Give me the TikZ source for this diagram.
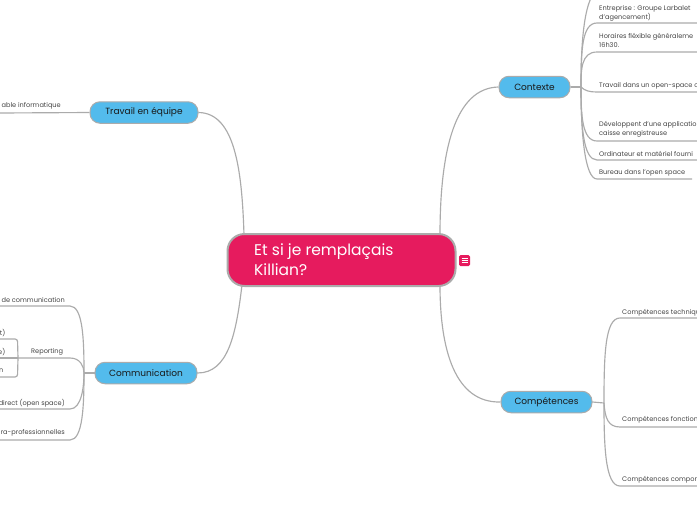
\documentclass[tikz,border=0pt]{standalone}
\usepackage{fontspec}
\setmainfont{Poppins}
\definecolor{pinkc}{HTML}{E61B5E}
\definecolor{bluec}{HTML}{53BBEC}
\definecolor{linec}{HTML}{ABABAB}
\definecolor{txtc}{HTML}{454545}
\newcommand{\tlabel}[1]{\raisebox{-1.8pt}{#1}}
\tikzset{
 x=1pt,y=-1pt,
 link/.style={draw=linec,line width=1.15pt},
 root/.style={draw=linec,line width=2pt,fill=pinkc,rounded corners=17,minimum width=228,minimum height=52,inner sep=0,text=white},
 topic/.style={draw=linec,line width=1pt,fill=bluec,rounded corners=10,minimum height=21.5,inner sep=0,text=black!90,font=\fontsize{9}{10}\selectfont},
 leaf/.style={inner sep=0,text=txtc,font=\fontsize{6.6}{9}\selectfont,align=left},
 leafl/.style={leaf,anchor=east,yshift=-1.3pt},
 leafr/.style={leaf,anchor=west,yshift=-1.3pt},
 leaft/.style={leaf,anchor=north west,yshift=-2.2pt},
}
\begin{document}
\begin{tikzpicture}
\useasboundingbox (0,0) rectangle (697,520);
\clip (0,0) rectangle (697,520);
% root connectors
\coordinate (mtr) at (440,235); \coordinate (mbr) at (440,285);
\coordinate (mtl) at (244,235); \coordinate (mbl) at (242,285);
% main nodes
\node[root] (main) at (341.5,260) {};
\node[anchor=west,inner sep=0,text=white,font=\fontsize{15.5}{20}\selectfont,align=left] (maintxt) at (254,260) {Et si je remplaçais\\Killian?};
\node[topic,minimum width=71] (ctx) at (534.5,87) {\tlabel{Contexte}};
\node[topic,minimum width=108] (team) at (144,112.5) {\tlabel{Travail en équipe}};
\node[topic,minimum width=102] (com) at (146,373) {\tlabel{Communication}};
\node[topic,minimum width=91] (cmp) at (546.5,402) {\tlabel{Compétences}};
% icon
\node[fill=pinkc,rounded corners=1.5,minimum width=11,minimum height=11,inner sep=0] (icon) at (464.5,260.5) {};
\foreach \yy in {-2.4,0,2.4}{\draw[white,line width=.9pt] ([shift={(-3,\yy)}]icon.center) -- ([shift={(3,\yy)}]icon.center);}
\draw[link] (mtr) .. controls (440,150) and (455,88) .. (ctx.west);
\draw[link] (mbr) .. controls (440,350) and (455,403) .. (cmp.west);
\draw[link] (mtl) .. controls (242,170) and (235,113) .. (team.east);
\draw[link] (mbl) .. controls (236,335) and (228,373) .. (com.east);
% Contexte
\coordinate (ct) at (581,87);
\draw[link] (ctx.east) -- (ct);
\coordinate (e0) at (591,-2);
\coordinate (e1s) at (597,23); \coordinate (e1) at (697,23);
\coordinate (e2s) at (597,52); \coordinate (e2) at (697,52);
\coordinate (e3s) at (597,92); \coordinate (e3) at (697,92);
\coordinate (e4s) at (597,141); \coordinate (e4) at (697,141);
\coordinate (e5s) at (597,160); \coordinate (e5) at (697,160);
\coordinate (e6s) at (597,179); \coordinate (e6) at (692,179);
\draw[link] (ct) .. controls (581,50) and (583,15) .. (e0);
\draw[link] (ct) .. controls (581,50) and (582,23) .. (e1s) -- (e1);
\draw[link] (ct) .. controls (581,70) and (581,52) .. (e2s) -- (e2);
\draw[link] (ct) .. controls (585,91) and (590,92) .. (e3s) -- (e3);
\draw[link] (ct) .. controls (581,115) and (582,141) .. (e4s) -- (e4);
\draw[link] (ct) .. controls (581,125) and (583,160) .. (e5s) -- (e5);
\draw[link] (ct) .. controls (581,135) and (585,179) .. (e6s) -- (e6);
\node[leaft] (t1) at (599,3) {Entreprise : Groupe Larbalet\\d'agencement)};
\node[leaft] (t2) at (599,31) {Horaires fléxible généraleme\\16h30.};
\node[leafr] (t3) at (599,84.5) {Travail dans un open-space c};
\node[leaft] (t4) at (599,119) {Développent d'une applicatio\\caisse enregistreuse};
\node[leafr] (t5) at (599,152.5) {Ordinateur et matériel fourni};
\node[leafr] (t6) at (599,171.5) {Bureau dans l'open space};
% Competences
\coordinate (pt) at (604,403);
\draw[link] (cmp.east) -- (pt);
\coordinate (p1s) at (620,318); \coordinate (p1) at (697,318);
\coordinate (p2s) at (620,427); \coordinate (p2) at (697,427);
\coordinate (p3s) at (620,486); \coordinate (p3) at (697,486);
\draw[link] (pt) .. controls (604,355) and (605,318) .. (p1s) -- (p1);
\draw[link] (pt) .. controls (605,418) and (608,427) .. (p2s) -- (p2);
\draw[link] (pt) .. controls (604,445) and (605,486) .. (p3s) -- (p3);
\node[leafr] (q1) at (622,311) {Compétences techniqu};
\node[leafr] (q2) at (622,418.5) {Compétences fonction};
\node[leafr] (q3) at (622,478) {Compétences compor};
% Travail
\coordinate (l0) at (0,113);
\draw[link] (team.west) -- (l0);
\node[leafl] (a0) at (61,105) {able informatique};
% Communication
\coordinate (ot) at (84,373);
\draw[link] (com.west) -- (ot);
\coordinate (o1s) at (70,306); \coordinate (o1) at (0,306);
\coordinate (o2s) at (70,358); \coordinate (o2) at (18,358);
\coordinate (o3s) at (70,409); \coordinate (o3) at (0,409);
\coordinate (o4s) at (70,440); \coordinate (o4) at (0,440);
\draw[link] (ot) .. controls (84,340) and (83,306) .. (o1s) -- (o1);
\draw[link] (ot) .. controls (84,366) and (80,358) .. (o2s) -- (o2);
\draw[link] (ot) .. controls (84,385) and (82,409) .. (o3s) -- (o3);
\draw[link] (ot) .. controls (84,405) and (83,440) .. (o4s) -- (o4);
\node[leafl] (b1) at (65,298.5) {de communication};
\node[leafr] (b2) at (31,350.5) {Reporting};
\node[leafl] (b3) at (65,401.5) {direct (open space)};
\node[leafl] (b4) at (65,432) {ra-professionnelles};
% Reporting children
\coordinate (r1) at (0,339); \coordinate (r2) at (0,358); \coordinate (r3) at (0,377);
\draw[link,rounded corners=2.5] (o2) -- (17.5,339) -- (r1);
\draw[link] (o2) -- (r2);
\draw[link,rounded corners=2.5] (o2) -- (17.5,377) -- (r3);
\node[leafl] (c1) at (5.5,331.5) {t)};
\node[leafl] (c2) at (5.5,350.5) {e)};
\node[leafl] (c3) at (3.5,369.5) {n};
\end{tikzpicture}
\end{document}
